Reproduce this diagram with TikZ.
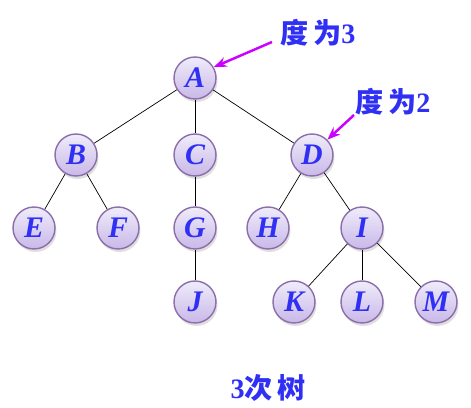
\documentclass[tikz,border=0pt]{standalone}
\usepackage{fontspec}
\setmainfont{Liberation Serif}
\newfontfamily\cjk{Noto Sans CJK SC}
\usetikzlibrary{arrows.meta}
\usetikzlibrary{shadows}

\definecolor{nodeblue}{RGB}{48,48,245}
\definecolor{arrowmag}{RGB}{204,0,255}
\definecolor{ringline}{RGB}{140,110,170}
\definecolor{fillTop}{RGB}{240,236,250}
\definecolor{fillBot}{RGB}{200,184,232}

\tikzset{
  treenode/.style={circle, draw=ringline, thick, minimum size=0.84cm, inner sep=0pt,
    top color=fillTop, bottom color=fillBot,
    drop shadow={shadow xshift=0.3mm, shadow yshift=-0.6mm, opacity=0.25},
    font=\fontsize{17}{17}\selectfont\bfseries\itshape, text=nodeblue},
  edge/.style={black, thin},
  note/.style={font=\fontsize{16}{16}\selectfont\bfseries, text=nodeblue},
  pointer/.style={-{Stealth[length=2.6mm, width=2mm]}, arrowmag, line width=1.4pt}
}

\begin{document}
\begin{tikzpicture}[x=0.02cm, y=-0.02cm]
\useasboundingbox (0,0) rectangle (471,408);

\node[treenode] (A) at (195,78) {A};
\node[treenode] (B) at (76,155) {B};
\node[treenode] (C) at (195,155) {C};
\node[treenode] (D) at (312,155) {D};
\node[treenode] (E) at (34,228) {E};
\node[treenode] (F) at (118,228) {F};
\node[treenode] (G) at (195,228) {G};
\node[treenode] (H) at (268,228) {H};
\node[treenode] (I) at (362,228) {I};
\node[treenode] (J) at (195,302) {J};
\node[treenode] (K) at (294,302) {K};
\node[treenode] (L) at (362,302) {L};
\node[treenode] (M) at (436,302) {M};

\draw[edge] (A) -- (B);
\draw[edge] (A) -- (C);
\draw[edge] (A) -- (D);
\draw[edge] (B) -- (E);
\draw[edge] (B) -- (F);
\draw[edge] (C) -- (G);
\draw[edge] (G) -- (J);
\draw[edge] (D) -- (H);
\draw[edge] (D) -- (I);
\draw[edge] (I) -- (K);
\draw[edge] (I) -- (L);
\draw[edge] (I) -- (M);

\node[note] (degA) at (318,33) {{\cjk 度\,为}3};
\node[note] (degD) at (393,102) {{\cjk 度\,为}2};
\node[note] (title) at (268,388) {3{\cjk 次\,树}};

\coordinate (pA) at (272,42);
\coordinate (pD) at (354,115);
\draw[pointer] (pA) -- (A.30);
\draw[pointer] (pD) -- (D.45);
\end{tikzpicture}
\end{document}
